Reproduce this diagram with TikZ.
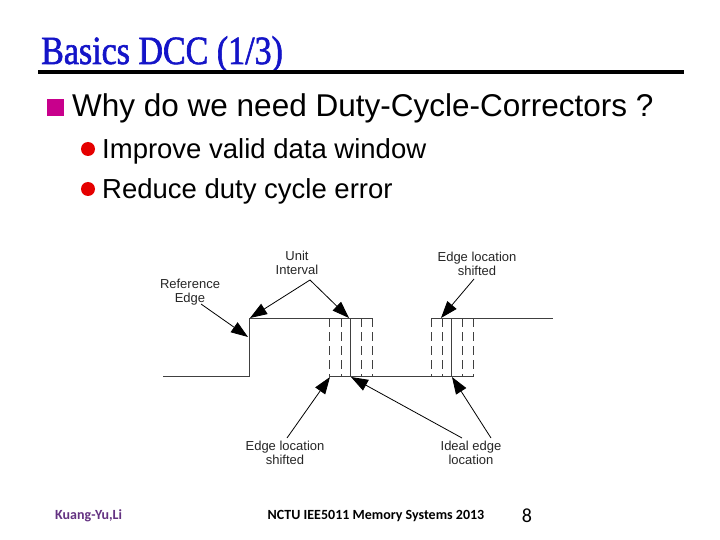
\documentclass[tikz,border=0pt]{standalone}
\usepackage{fontspec}
\setmainfont{Liberation Sans}
\newfontfamily\tfont[FakeStretch=0.85,FakeBold=1.5]{Liberation Serif}
\newfontfamily\ffont{Carlito}
\usetikzlibrary{arrows.meta}
\definecolor{tblue}{RGB}{20,20,200}
\definecolor{mag}{RGB}{200,0,140}
\definecolor{fpurple}{RGB}{100,50,130}
\begin{document}
\begin{tikzpicture}[x=1pt,y=-1pt,
  lbl/.style={font=\fontsize{13}{14}\selectfont,align=center,inner sep=0pt,text=black!85},
  sig/.style={line width=0.9pt,black!75},
  dsh/.style={line width=0.9pt,black!75,dash pattern=on 9pt off 5pt},
  arr/.style={line width=0.8pt,-{Triangle[length=17pt,width=12pt]}}]
\useasboundingbox (0,0) rectangle (720,540);
\fill[white] (0,0) rectangle (720,540);
% title
\node[anchor=base west,inner sep=0pt,text=tblue,font=\tfont\fontsize{40}{42}\selectfont] (title) at (41,64) {Basics DCC (1/3)};
\draw[line width=4pt] (38,72) -- (684,72);
% bullets
\fill[mag] (47,99) rectangle (64,116);
\node[anchor=base west,inner sep=0pt,font=\fontsize{31.5}{34}\selectfont] (b1) at (72,117) {Why do we need Duty-Cycle-Correctors ?};
\fill[red!90!black] (88,149) circle (7);
\fill[red!90!black] (88,189) circle (7);
\node[anchor=base west,inner sep=0pt,font=\fontsize{27.5}{30}\selectfont] (s1) at (102,159) {Improve valid data window};
\node[anchor=base west,inner sep=0pt,font=\fontsize{27.5}{30}\selectfont] (s2) at (102,199) {Reduce duty cycle error};
% waveform
\draw[sig] (163,376) -- (249,376) -- (249,318) -- (350,318) -- (350,376) -- (451,376) -- (451,318) -- (553,318);
\draw[sig] (350,318) -- (372,318);
\draw[sig] (329,376) -- (350,376);
\draw[sig] (431,318) -- (451,318);
\draw[sig] (451,376) -- (474,376);
\foreach \x in {329,341,361,372,431,442,462,473}
  \draw[dsh] (\x,318) -- (\x,376);
% coordinates
\coordinate (re) at (248,337);
\coordinate (ui1) at (250,318);
\coordinate (ui2) at (349,318);
\coordinate (es1) at (441,318);
\coordinate (es2) at (330,377);
\coordinate (ie1) at (351,377);
\coordinate (ie2) at (452,377);
% labels
\node[lbl] (ui) at (297,263) {Unit\\Interval};
\node[lbl] (ref) at (190,292) {Reference\\Edge};
\node[lbl] (est) at (477,264) {Edge location\\shifted};
\node[lbl] (esb) at (285,453) {Edge location\\shifted};
\node[lbl] (ide) at (471,453) {Ideal edge\\location};
\draw[arr] (310,280) -- (ui1);
\draw[arr] (310,280) -- (ui2);
\draw[arr] (201,304) -- (re);
\draw[arr] (474,279) -- (es1);
\draw[arr] (287,438) -- (es2);
\draw[arr] (462,438) -- (ie1);
\draw[arr] (491,438) -- (ie2);
% footer
\node[anchor=base west,inner sep=0pt,text=fpurple,font=\ffont\bfseries\fontsize{14}{15}\selectfont] (f1) at (55,519) {Kuang-Yu,Li};
\node[anchor=base,inner sep=0pt,font=\ffont\bfseries\fontsize{14}{15}\selectfont] (f2) at (376,519) {NCTU IEE5011 Memory Systems 2013};
\node[anchor=base,inner sep=0pt,font=\ffont\fontsize{20}{21}\selectfont] (f3) at (527,522) {8};
\end{tikzpicture}
\end{document}
